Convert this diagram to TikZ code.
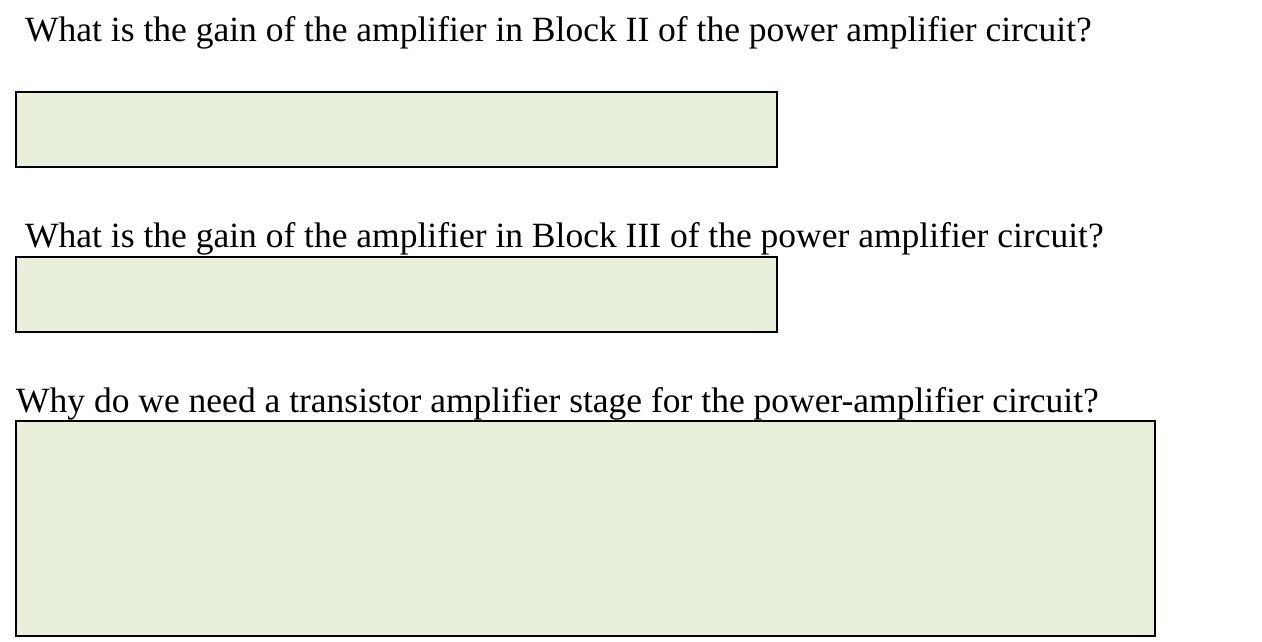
\documentclass[tikz,border=0pt]{standalone}
\usepackage{fontspec}
\setmainfont{Liberation Serif}
\definecolor{boxfill}{HTML}{E8F0DC}
\begin{document}
\begin{tikzpicture}[x=1pt,y=-1pt,
  q/.style={anchor=base west,inner sep=0pt,font=\fontsize{35.5}{40}\selectfont},
  ans/.style={draw=black,line width=1.5pt,fill=boxfill}]
\useasboundingbox (0,0) rectangle (1262,641);
\node[q] (q1) at (25,41) {What is the gain of the amplifier in Block II of the power amplifier circuit?};
\draw[ans] (16,92) rectangle (777,167);
\node[q] (q2) at (25,247) {What is the gain of the amplifier in Block III of the power amplifier circuit?};
\draw[ans] (16,257) rectangle (777,332);
\node[q] (q3) at (16,412) {Why do we need a transistor amplifier stage for the power-amplifier circuit?};
\draw[ans] (16,421) rectangle (1155,636);
\end{tikzpicture}
\end{document}
